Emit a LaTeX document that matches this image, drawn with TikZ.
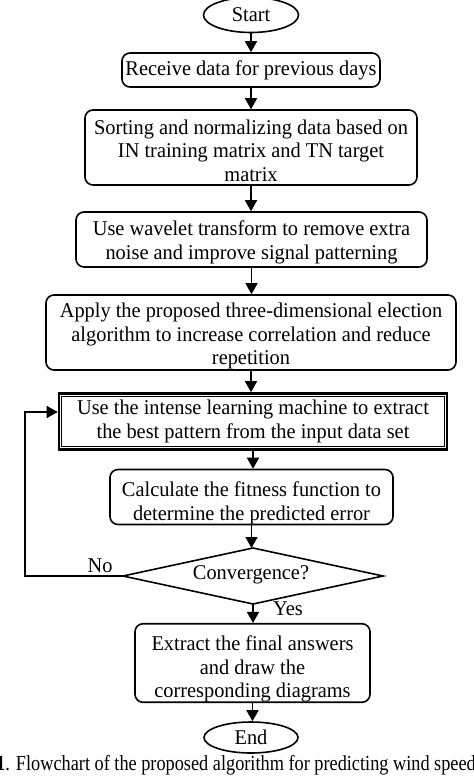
\documentclass[tikz,border=0pt]{standalone}
\usepackage{fontspec}
\setmainfont{Liberation Serif}[FakeStretch=0.97]
\usetikzlibrary{shapes.geometric,arrows.meta,calc}
\begin{document}
\begin{tikzpicture}[x=1pt,y=-1pt,
  every node/.style={font=\fontsize{21}{23.5}\selectfont},
  box/.style={draw, line width=1.6pt, rounded corners=8pt, align=center, inner sep=0pt},
  term/.style={draw, line width=1.6pt, ellipse, inner sep=0pt},
  arr/.style={line width=1.6pt, -{Triangle[width=12pt,length=11pt]}},
  lbl/.style={inner sep=0pt}]
\useasboundingbox (0,0) rectangle (474,777);
\fill[white] (0,0) rectangle (474,777);

\node[term, minimum width=95, minimum height=35] (start) at (251,15) {Start};
\node[box, minimum width=258, minimum height=34] (b1) at (251,70) {Receive data for previous days};
\node[box, minimum width=332, minimum height=75] (b2) at (251,147.5) {\rule{0pt}{21pt}Sorting and normalizing data based on\\IN training matrix and TN target\\matrix};
\node[box, minimum width=351, minimum height=55] (b3) at (251.5,239.5) {\rule{0pt}{21pt}Use wavelet transform to remove extra\\noise and improve signal patterning};
\node[box, minimum width=410, minimum height=75] (b4) at (251,332.5) {\rule{0pt}{22pt}Apply the proposed three-dimensional election\\algorithm to increase correlation and reduce\\repetition};
\node[draw, line width=2.6pt, align=center, inner sep=0pt, minimum width=388, minimum height=56] (b5) at (253,421.5) {Use the intense learning machine to extract\\the best pattern from the input data set};
\draw[line width=0.9pt] ($(b5.north west)+(4,4)$) rectangle ($(b5.south east)+(-4,-4)$);
\node[box, minimum width=283, minimum height=50] (b6) at (251.5,497) {\rule{0pt}{27pt}Calculate the fitness function to\\determine the predicted error};

% decision diamond
\coordinate (dN) at (253,548);
\coordinate (dS) at (253,604);
\coordinate (dW) at (123,576);
\coordinate (dE) at (383,576);
\draw[line width=1.6pt, line join=miter] (dN) -- (dE) -- (dS) -- (dW) -- cycle;
\node[lbl] (dia) at (251,575) {Convergence?};

\node[box, minimum width=235, minimum height=76] (b7) at (252.5,663) {\rule{0pt}{27pt}Extract the final answers\\and draw the\\corresponding diagrams};
\node[term, minimum width=94, minimum height=31] (end) at (251,737.5) {End};

\draw[arr] (start.south) -- (start.south |- b1.north);
\draw[arr] (b1.south) -- (b1.south |- b2.north);
\draw[arr] (b2.south) -- (b2.south |- b3.north);
\draw[arr] (b3.south) -- (b3.south |- b4.north);
\draw[arr] (b4.south) -- (b4.south |- b5.north);
\draw[arr] (b5.south) -- (b5.south |- b6.north);
\draw[arr] (b6.south) -- (b6.south |- dN);
\draw[arr] (dS) -- (dS |- b7.north);
\draw[arr] (b7.south) -- (b7.south |- end.north);

\coordinate (c1) at (25,576);
\coordinate (c2) at (25,412);
\draw[arr] (dW) -- (c1) -- (c2) -- (b5.west |- c2);

\node[lbl] (no) at (100,566) {No};
\node[lbl] (yes) at (288,609) {Yes};

\node[lbl, anchor=base west, font=\fontsize{21.5}{23.5}\addfontfeatures{FakeStretch=0.85}\selectfont] (cap) at (-4,770) {\textbf{1}. Flowchart of the proposed algorithm for predicting wind speed};
\end{tikzpicture}
\end{document}
